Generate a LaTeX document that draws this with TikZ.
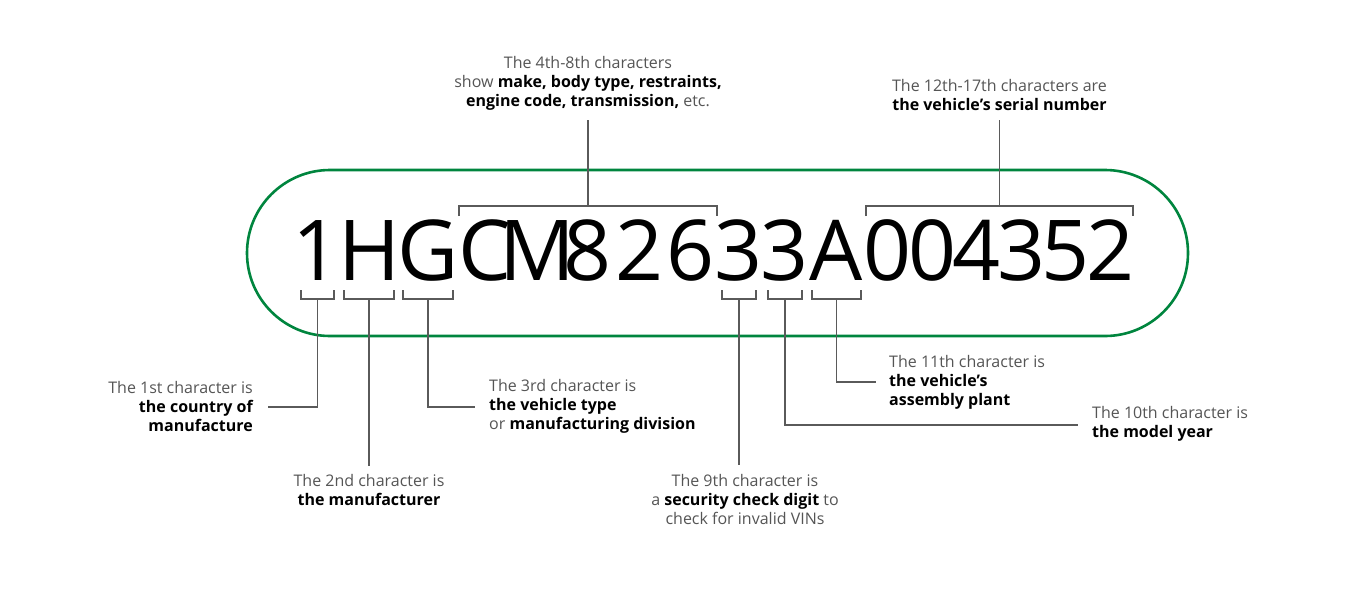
\documentclass[tikz,border=0pt]{standalone}
\usepackage{fontspec}
\setmainfont{Open Sans}
\definecolor{vgreen}{RGB}{0,133,62}
\definecolor{tgray}{RGB}{85,85,85}
\definecolor{lgray}{RGB}{90,90,90}
\begin{document}
\begin{tikzpicture}[x=1pt,y=-1pt,
  vin/.style={font=\fontsize{84}{84}\selectfont, inner sep=0pt, anchor=base},
  lbl/.style={font=\fontsize{16}{19}\selectfont, text=tgray, inner sep=0pt},
  lead/.style={draw=lgray, line width=1.3pt},
  brk/.style={draw=lgray, line width=1.3pt}]
\useasboundingbox (0,0) rectangle (1358,603);
\draw[vgreen, line width=2.6pt, rounded corners=83pt] (247,170) rectangle (1188,336);
% characters
\foreach \c/\x [count=\i] in {1/317,H/369,G/428,C/485,M/537,8/588,2/640,6/691,3/739,3/785,A/836,0/888,0/933,4/977,3/1022,5/1066,2/1111}
  \node[vin] (c\i) at (\x,280) {\c};
% bottom brackets
\foreach \a/\b/\n in {301/334/b1,344/394/b2,403/453/b3,722/756/b9,768/802/b10,812/861/b11}{
  \draw[brk] (\a,290) -- (\a,299) -- (\b,299) -- (\b,290);
  \coordinate (\n) at ({(\a+\b)/2},299);
}
% top brackets
\draw[brk] (459,216) -- (459,206) -- (717,206) -- (717,216);
\coordinate (t1) at (588,206);
\draw[brk] (866,216) -- (866,206) -- (1133,206) -- (1133,216);
\coordinate (t2) at (999.5,206);
% labels
\node[lbl, align=right, anchor=east] (l1) at (253,406) {The 1st character is\\ \textcolor{black}{\bfseries the country of}\\ \textcolor{black}{\bfseries manufacture}};
\node[lbl, align=center, anchor=north] (l2) at (369,474) {The 2nd character is\\ \textcolor{black}{\bfseries the manufacturer}};
\node[lbl, align=left, anchor=west] (l3) at (489,406) {The 3rd character is\\ \textcolor{black}{\bfseries the vehicle type}\\ or \textcolor{black}{\bfseries manufacturing division}};
\node[lbl, align=center, anchor=north] (l9) at (745,474) {The 9th character is\\ a \textcolor{black}{\bfseries security check digit} to\\ check for invalid VINs};
\node[lbl, align=left, anchor=west] (l10) at (1092,424) {The 10th character is\\ \textcolor{black}{\bfseries the model year}};
\node[lbl, align=left, anchor=west] (l11) at (889,382) {The 11th character is\\ \textcolor{black}{\bfseries the vehicle's}\\ \textcolor{black}{\bfseries assembly plant}};
\node[lbl, align=center, anchor=south] (lt1) at (588,111) {The 4th-8th characters\\ show \textcolor{black}{\bfseries make, body type, restraints,}\\ \textcolor{black}{\bfseries engine code, transmission,} etc.};
\node[lbl, align=center, anchor=south] (lt2) at (999.5,111) {The 12th-17th characters are\\ \textcolor{black}{\bfseries the vehicle's serial number}};
% leaders
\draw[lead] (b1) |- (268,407);
\draw[lead] (b2) -- (369,466);
\draw[lead] (b3) |- (475,407);
\draw[lead] (b9) -- (739,465);
\draw[lead] (b10) |- (1078,425);
\draw[lead] (b11) |- (876,382);
\draw[lead] (t1) -- (588,120);
\draw[lead] (t2) -- (999.5,120);
\end{tikzpicture}
\end{document}
